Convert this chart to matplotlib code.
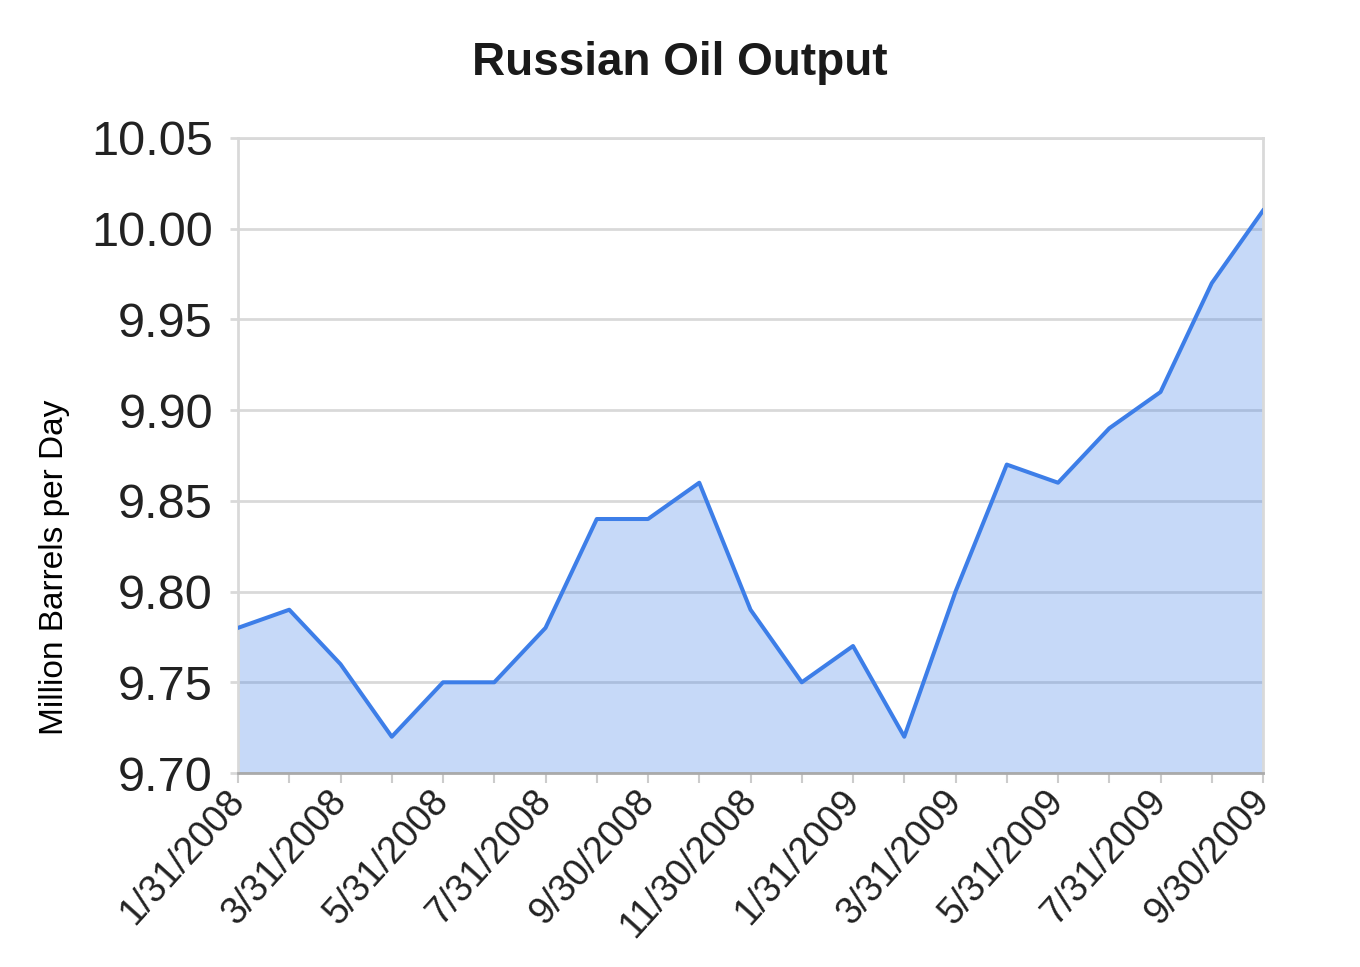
import matplotlib
matplotlib.use("Agg")
import matplotlib.pyplot as plt
import numpy as np

plt.rcParams['font.family'] = ['Liberation Sans', 'DejaVu Sans']

# month-end dates, Jan 2008 .. Sep 2009
dates = ["1/31/2008", "2/29/2008", "3/31/2008", "4/30/2008", "5/31/2008",
         "6/30/2008", "7/31/2008", "8/31/2008", "9/30/2008", "10/31/2008",
         "11/30/2008", "12/31/2008", "1/31/2009", "2/28/2009", "3/31/2009",
         "4/30/2009", "5/31/2009", "6/30/2009", "7/31/2009", "8/31/2009",
         "9/30/2009"]
output = [9.78, 9.79, 9.76, 9.72, 9.75, 9.75, 9.78, 9.84, 9.84, 9.86,
          9.79, 9.75, 9.77, 9.72, 9.80, 9.87, 9.86, 9.89, 9.91, 9.97, 10.01]
yticks = [9.70, 9.75, 9.80, 9.85, 9.90, 9.95, 10.00, 10.05]

line_col = '#3d7ee8'
grid_col = '#d9d9d9'

fig = plt.figure(figsize=(13.6, 9.67), dpi=100)
ax = fig.add_axes([0.175, 0.2006, 0.7537, 0.6567])

x = np.arange(len(dates))
ax.fill_between(x, output, 9.70, color=line_col, alpha=0.29, lw=0, zorder=2)
ax.plot(x, output, color=line_col, lw=2.9, zorder=3)

ax.set_xlim(0, len(dates) - 1)
ax.set_ylim(9.70, 10.05)
ax.set_yticks(yticks)
ax.set_yticklabels([f"{v:.2f}" for v in yticks], fontsize=35, color='#222222')
ax.set_xticks(x)
ax.set_xticklabels([d if i % 2 == 0 else "" for i, d in enumerate(dates)],
                   rotation=48, ha='right', va='center', rotation_mode='anchor',
                   fontsize=27, color='#222222')
ax.tick_params(axis='x', length=7, width=1.5, color='#cccccc', pad=9)
ax.tick_params(axis='y', length=6, width=2, color=grid_col, pad=12)

ax.grid(axis='y', color=grid_col, lw=2, zorder=1)
ax.set_axisbelow(True)
for side in ['left', 'right', 'top']:
    ax.spines[side].set_color(grid_col)
    ax.spines[side].set_linewidth(2)
ax.spines['bottom'].set_color('#aaaaaa')
ax.spines['bottom'].set_linewidth(2)

ax.set_ylabel("Million Barrels per Day", fontsize=24)
ax.yaxis.set_label_coords(-0.164, 0.324)
fig.text(0.5, 1 - 75 / 967, "Russian Oil Output", ha='center', va='baseline',
         fontsize=33, fontweight='bold', color='#1a1a1a')

fig.savefig("out.png", dpi=100, facecolor='white')
